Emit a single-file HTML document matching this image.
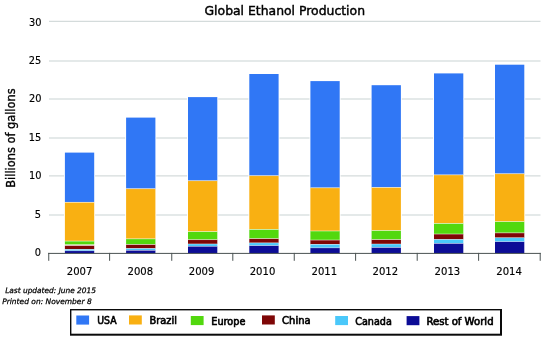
<!DOCTYPE html>
<html><head><meta charset="utf-8"><title>Global Ethanol Production</title>
<style>html,body{margin:0;padding:0;background:#fff}svg{display:block}</style></head>
<body>
<svg width="543" height="337" viewBox="0 0 543 337">
<rect width="543" height="337" fill="#fff"/>
<rect x="49" y="20.80" width="491.5" height="1" fill="#cad3d3"/>
<rect x="49" y="60.50" width="491.5" height="1" fill="#cad3d3"/>
<rect x="49" y="98.50" width="491.5" height="1" fill="#cad3d3"/>
<rect x="49" y="137.50" width="491.5" height="1" fill="#cad3d3"/>
<rect x="49" y="175.40" width="491.5" height="1" fill="#cad3d3"/>
<rect x="49" y="214.50" width="491.5" height="1" fill="#cad3d3"/>
<rect x="64.00" y="151.40" width="31.10" height="101.90" fill="#fff"/>
<rect x="64.90" y="152.60" width="29.3" height="49.61" fill="#3077f5"/>
<rect x="64.90" y="202.21" width="29.3" height="38.85" fill="#f9b012"/>
<rect x="64.90" y="241.06" width="29.3" height="4.41" fill="#fbf3e6"/>
<rect x="64.90" y="241.06" width="29.3" height="3.30" fill="#52d80e"/>
<rect x="64.90" y="245.47" width="29.3" height="3.76" fill="#7e0606"/>
<rect x="64.90" y="249.23" width="29.3" height="1.63" fill="#4ac8fa"/>
<rect x="64.90" y="250.86" width="29.3" height="2.44" fill="#0c0c96"/>
<rect x="64.90" y="201.96" width="29.3" height="0.5" fill="#fff"/>
<rect x="64.90" y="240.81" width="29.3" height="0.5" fill="#fff"/>
<rect x="64.90" y="245.22" width="29.3" height="0.5" fill="#fff"/>
<rect x="64.90" y="249.03" width="29.3" height="0.4" fill="#fff"/>
<rect x="64.90" y="250.66" width="29.3" height="0.4" fill="#fff"/>
<rect x="125.20" y="116.40" width="31.10" height="136.90" fill="#fff"/>
<rect x="126.10" y="117.60" width="29.3" height="71.19" fill="#3077f5"/>
<rect x="126.10" y="188.79" width="29.3" height="50.09" fill="#f9b012"/>
<rect x="126.10" y="238.88" width="29.3" height="5.68" fill="#52d80e"/>
<rect x="126.10" y="244.56" width="29.3" height="3.89" fill="#7e0606"/>
<rect x="126.10" y="248.45" width="29.3" height="1.84" fill="#4ac8fa"/>
<rect x="126.10" y="250.29" width="29.3" height="3.01" fill="#0c0c96"/>
<rect x="126.10" y="188.54" width="29.3" height="0.5" fill="#fff"/>
<rect x="126.10" y="238.63" width="29.3" height="0.5" fill="#fff"/>
<rect x="126.10" y="244.31" width="29.3" height="0.5" fill="#fff"/>
<rect x="126.10" y="248.25" width="29.3" height="0.4" fill="#fff"/>
<rect x="126.10" y="250.09" width="29.3" height="0.4" fill="#fff"/>
<rect x="187.10" y="95.90" width="31.10" height="157.40" fill="#fff"/>
<rect x="188.00" y="97.10" width="29.3" height="83.71" fill="#3077f5"/>
<rect x="188.00" y="180.81" width="29.3" height="50.91" fill="#f9b012"/>
<rect x="188.00" y="231.73" width="29.3" height="8.05" fill="#52d80e"/>
<rect x="188.00" y="239.78" width="29.3" height="4.20" fill="#7e0606"/>
<rect x="188.00" y="243.97" width="29.3" height="2.25" fill="#4ac8fa"/>
<rect x="188.00" y="246.23" width="29.3" height="7.07" fill="#0c0c96"/>
<rect x="188.00" y="180.56" width="29.3" height="0.5" fill="#fff"/>
<rect x="188.00" y="231.48" width="29.3" height="0.5" fill="#fff"/>
<rect x="188.00" y="239.53" width="29.3" height="0.5" fill="#fff"/>
<rect x="188.00" y="243.77" width="29.3" height="0.4" fill="#fff"/>
<rect x="188.00" y="246.03" width="29.3" height="0.4" fill="#fff"/>
<rect x="248.40" y="72.80" width="31.10" height="180.50" fill="#fff"/>
<rect x="249.30" y="74.00" width="29.3" height="101.78" fill="#3077f5"/>
<rect x="249.30" y="175.78" width="29.3" height="53.58" fill="#f9b012"/>
<rect x="249.30" y="229.36" width="29.3" height="9.36" fill="#52d80e"/>
<rect x="249.30" y="238.72" width="29.3" height="4.20" fill="#7e0606"/>
<rect x="249.30" y="242.91" width="29.3" height="2.76" fill="#4ac8fa"/>
<rect x="249.30" y="245.68" width="29.3" height="7.62" fill="#0c0c96"/>
<rect x="249.30" y="175.53" width="29.3" height="0.5" fill="#fff"/>
<rect x="249.30" y="229.11" width="29.3" height="0.5" fill="#fff"/>
<rect x="249.30" y="238.47" width="29.3" height="0.5" fill="#fff"/>
<rect x="249.30" y="242.71" width="29.3" height="0.4" fill="#fff"/>
<rect x="249.30" y="245.48" width="29.3" height="0.4" fill="#fff"/>
<rect x="309.50" y="79.90" width="31.10" height="173.40" fill="#fff"/>
<rect x="310.40" y="81.10" width="29.3" height="106.75" fill="#3077f5"/>
<rect x="310.40" y="187.85" width="29.3" height="43.14" fill="#f9b012"/>
<rect x="310.40" y="230.99" width="29.3" height="9.04" fill="#52d80e"/>
<rect x="310.40" y="240.03" width="29.3" height="4.30" fill="#7e0606"/>
<rect x="310.40" y="244.32" width="29.3" height="3.58" fill="#4ac8fa"/>
<rect x="310.40" y="247.90" width="29.3" height="5.40" fill="#0c0c96"/>
<rect x="310.40" y="187.60" width="29.3" height="0.5" fill="#fff"/>
<rect x="310.40" y="230.74" width="29.3" height="0.5" fill="#fff"/>
<rect x="310.40" y="239.78" width="29.3" height="0.5" fill="#fff"/>
<rect x="310.40" y="244.12" width="29.3" height="0.4" fill="#fff"/>
<rect x="310.40" y="247.70" width="29.3" height="0.4" fill="#fff"/>
<rect x="370.70" y="84.00" width="31.10" height="169.30" fill="#fff"/>
<rect x="371.60" y="85.20" width="29.3" height="102.22" fill="#3077f5"/>
<rect x="371.60" y="187.42" width="29.3" height="43.17" fill="#f9b012"/>
<rect x="371.60" y="230.58" width="29.3" height="9.13" fill="#52d80e"/>
<rect x="371.60" y="239.71" width="29.3" height="4.30" fill="#7e0606"/>
<rect x="371.60" y="244.00" width="29.3" height="3.48" fill="#4ac8fa"/>
<rect x="371.60" y="247.48" width="29.3" height="5.82" fill="#0c0c96"/>
<rect x="371.60" y="187.17" width="29.3" height="0.5" fill="#fff"/>
<rect x="371.60" y="230.33" width="29.3" height="0.5" fill="#fff"/>
<rect x="371.60" y="239.46" width="29.3" height="0.5" fill="#fff"/>
<rect x="371.60" y="243.80" width="29.3" height="0.4" fill="#fff"/>
<rect x="371.60" y="247.28" width="29.3" height="0.4" fill="#fff"/>
<rect x="433.10" y="72.20" width="31.10" height="181.10" fill="#fff"/>
<rect x="434.00" y="73.40" width="29.3" height="101.50" fill="#3077f5"/>
<rect x="434.00" y="174.90" width="29.3" height="48.51" fill="#f9b012"/>
<rect x="434.00" y="223.41" width="29.3" height="10.61" fill="#52d80e"/>
<rect x="434.00" y="234.02" width="29.3" height="5.39" fill="#7e0606"/>
<rect x="434.00" y="239.41" width="29.3" height="4.05" fill="#4ac8fa"/>
<rect x="434.00" y="243.45" width="29.3" height="9.85" fill="#0c0c96"/>
<rect x="434.00" y="174.65" width="29.3" height="0.5" fill="#fff"/>
<rect x="434.00" y="223.16" width="29.3" height="0.5" fill="#fff"/>
<rect x="434.00" y="233.77" width="29.3" height="0.5" fill="#fff"/>
<rect x="434.00" y="239.21" width="29.3" height="0.4" fill="#fff"/>
<rect x="434.00" y="243.25" width="29.3" height="0.4" fill="#fff"/>
<rect x="494.10" y="63.50" width="31.10" height="189.80" fill="#fff"/>
<rect x="495.00" y="64.70" width="29.3" height="109.11" fill="#3077f5"/>
<rect x="495.00" y="173.81" width="29.3" height="47.91" fill="#f9b012"/>
<rect x="495.00" y="221.72" width="29.3" height="11.18" fill="#52d80e"/>
<rect x="495.00" y="232.91" width="29.3" height="4.91" fill="#7e0606"/>
<rect x="495.00" y="237.82" width="29.3" height="3.95" fill="#4ac8fa"/>
<rect x="495.00" y="241.77" width="29.3" height="11.53" fill="#0c0c96"/>
<rect x="495.00" y="173.56" width="29.3" height="0.5" fill="#fff"/>
<rect x="495.00" y="221.47" width="29.3" height="0.5" fill="#fff"/>
<rect x="495.00" y="232.66" width="29.3" height="0.5" fill="#fff"/>
<rect x="495.00" y="237.62" width="29.3" height="0.4" fill="#fff"/>
<rect x="495.00" y="241.57" width="29.3" height="0.4" fill="#fff"/>
<rect x="48.2" y="252.9" width="492.5" height="1" fill="#4b5353"/>
<rect x="48.25" y="252.9" width="1" height="7.9" fill="#4b5353"/>
<rect x="109.10" y="252.9" width="1" height="7.9" fill="#4b5353"/>
<rect x="171.25" y="252.9" width="1" height="7.9" fill="#4b5353"/>
<rect x="232.30" y="252.9" width="1" height="7.9" fill="#4b5353"/>
<rect x="293.75" y="252.9" width="1" height="7.9" fill="#4b5353"/>
<rect x="355.10" y="252.9" width="1" height="7.9" fill="#4b5353"/>
<rect x="416.70" y="252.9" width="1" height="7.9" fill="#4b5353"/>
<rect x="478.10" y="252.9" width="1" height="7.9" fill="#4b5353"/>
<rect x="539.70" y="252.9" width="1" height="7.9" fill="#4b5353"/>
<g font-family="'DejaVu Sans', 'Liberation Sans', sans-serif" fill="#000" stroke="#000" stroke-width="0.25">
<text x="204.5" y="14.7" font-size="13" stroke-width="0.45" textLength="160.5" lengthAdjust="spacingAndGlyphs">Global Ethanol Production</text>
<text x="41.4" y="25.5" font-size="10" stroke-width="0.15" text-anchor="end" textLength="12.50" lengthAdjust="spacingAndGlyphs">30</text>
<text x="41.3" y="63.6" font-size="10" stroke-width="0.15" text-anchor="end" textLength="12.50" lengthAdjust="spacingAndGlyphs">25</text>
<text x="41.4" y="102.1" font-size="10" stroke-width="0.15" text-anchor="end" textLength="12.50" lengthAdjust="spacingAndGlyphs">20</text>
<text x="41.3" y="140.6" font-size="10" stroke-width="0.15" text-anchor="end" textLength="12.50" lengthAdjust="spacingAndGlyphs">15</text>
<text x="41.4" y="179.1" font-size="10" stroke-width="0.15" text-anchor="end" textLength="12.50" lengthAdjust="spacingAndGlyphs">10</text>
<text x="41.0" y="217.7" font-size="10" stroke-width="0.15" text-anchor="end" textLength="6.25" lengthAdjust="spacingAndGlyphs">5</text>
<text x="41.0" y="256.1" font-size="10" stroke-width="0.15" text-anchor="end" textLength="6.25" lengthAdjust="spacingAndGlyphs">0</text>
<text x="79.60" y="274.5" font-size="10" stroke-width="0.15" text-anchor="middle" textLength="25.6" lengthAdjust="spacingAndGlyphs">2007</text>
<text x="140.30" y="274.5" font-size="10" stroke-width="0.15" text-anchor="middle" textLength="25.6" lengthAdjust="spacingAndGlyphs">2008</text>
<text x="201.60" y="274.5" font-size="10" stroke-width="0.15" text-anchor="middle" textLength="25.6" lengthAdjust="spacingAndGlyphs">2009</text>
<text x="262.50" y="274.5" font-size="10" stroke-width="0.15" text-anchor="middle" textLength="25.6" lengthAdjust="spacingAndGlyphs">2010</text>
<text x="324.30" y="274.5" font-size="10" stroke-width="0.15" text-anchor="middle" textLength="25.6" lengthAdjust="spacingAndGlyphs">2011</text>
<text x="385.30" y="274.5" font-size="10" stroke-width="0.15" text-anchor="middle" textLength="25.6" lengthAdjust="spacingAndGlyphs">2012</text>
<text x="447.40" y="274.5" font-size="10" stroke-width="0.15" text-anchor="middle" textLength="25.6" lengthAdjust="spacingAndGlyphs">2013</text>
<text x="509.10" y="274.5" font-size="10" stroke-width="0.15" text-anchor="middle" textLength="25.6" lengthAdjust="spacingAndGlyphs">2014</text>
<text transform="translate(14.8,187.7) rotate(-90)" font-size="11.8" stroke-width="0.35" textLength="99.3" lengthAdjust="spacingAndGlyphs">Billions of gallons</text>
<text x="5.2" y="292.6" font-size="7.5" font-style="italic" textLength="90.8" lengthAdjust="spacingAndGlyphs" stroke-width="0.25">Last updated: June 2015</text>
<text x="2.2" y="304" font-size="7.5" font-style="italic" textLength="89.5" lengthAdjust="spacingAndGlyphs" stroke-width="0.25">Printed on: November 8</text>
</g>
<rect x="70" y="309" width="432" height="26.7" fill="#0a0a0a"/>
<rect x="71.4" y="310.4" width="428.6" height="23.3" fill="#fff"/>
<g font-family="'DejaVu Sans', 'Liberation Sans', sans-serif" fill="#000" font-size="9.7" stroke="#000" stroke-width="0.6">
<rect x="76.3" y="315.5" width="12.8" height="9.1" fill="#3077f5" stroke="none"/>
<text x="97.3" y="324.4" textLength="19.3" lengthAdjust="spacingAndGlyphs">USA</text>
<rect x="129" y="315.4" width="12.8" height="9.1" fill="#f9b012" stroke="none"/>
<text x="149.5" y="324.4" textLength="27.4" lengthAdjust="spacingAndGlyphs">Brazil</text>
<rect x="190.8" y="316.0" width="12.8" height="9.1" fill="#52d80e" stroke="none"/>
<text x="211.3" y="324.6" textLength="34.1" lengthAdjust="spacingAndGlyphs">Europe</text>
<rect x="262" y="315.4" width="12.8" height="9.1" fill="#7e0606" stroke="none"/>
<text x="282.1" y="324.1" textLength="28.5" lengthAdjust="spacingAndGlyphs">China</text>
<rect x="335.2" y="316.0" width="12.8" height="9.1" fill="#4ac8fa" stroke="none"/>
<text x="355.2" y="324.6" textLength="36.6" lengthAdjust="spacingAndGlyphs">Canada</text>
<rect x="406.6" y="316.1" width="12.8" height="9.1" fill="#0c0c96" stroke="none"/>
<text x="426.4" y="324.6" textLength="67.2" lengthAdjust="spacingAndGlyphs">Rest of World</text>
</g>
</svg>
</body></html>
